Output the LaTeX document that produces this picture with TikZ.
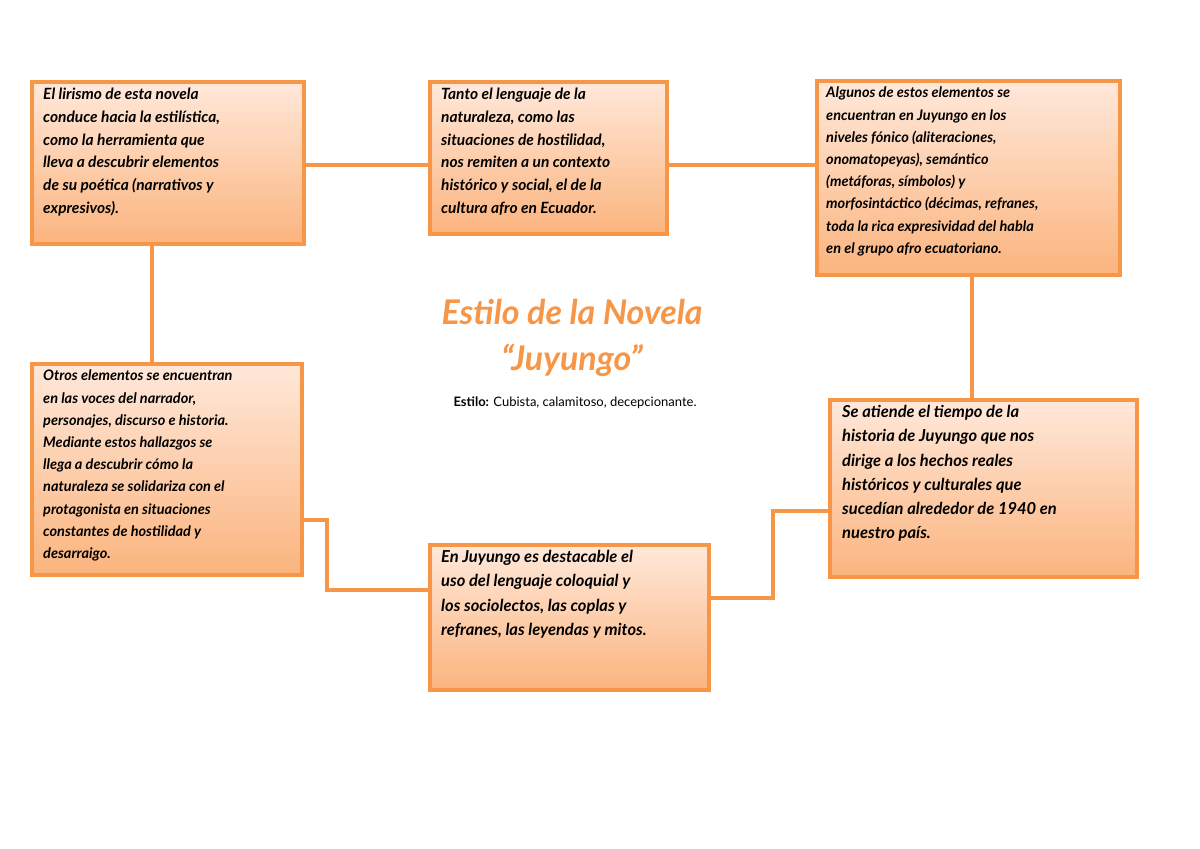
\documentclass[tikz,border=0pt]{standalone}
\usepackage{fontspec}
\setmainfont{Lato}
\usetikzlibrary{shadows}
\definecolor{bord}{HTML}{F79646}
\definecolor{topc}{HTML}{FFE8DA}
\definecolor{botc}{HTML}{FBB47E}
\tikzset{
 box/.style={draw=bord,line width=3.5pt,top color=topc,bottom color=botc,
   drop shadow={shadow xshift=1.5pt,shadow yshift=-1.5pt,opacity=0.35},
   anchor=north west,inner sep=0pt},
 txt/.style={text=black,align=left,anchor=north west,inner sep=0pt,
   font=\fontsize{15.5}{22.7}\selectfont\bfseries\itshape},
 conn/.style={draw=bord,line width=3.5pt}
}
\begin{document}
\begin{tikzpicture}[x=1pt,y=-1pt]
\useasboundingbox (0,0) rectangle (1200,849);
\fill[white] (0,0) rectangle (1200,849);
\node[box,minimum width=272pt,minimum height=162pt] (b1) at (30,80) {};
\node[box,minimum width=237pt,minimum height=152pt] (b2) at (428,80) {};
\node[box,minimum width=303pt,minimum height=194pt] (b3) at (815,79) {};
\node[box,minimum width=270pt,minimum height=211pt] (b4) at (30,362) {};
\node[box,minimum width=307pt,minimum height=177pt] (b5) at (828,398) {};
\node[box,minimum width=279pt,minimum height=145pt] (b6) at (428,543) {};
\node[txt] (t1) at (43,88) {El lirismo de esta novela\\conduce hacia la estilística,\\como la herramienta que\\lleva a descubrir elementos\\de su poética (narrativos y\\expresivos).};
\node[txt] (t2) at (441,88) {Tanto el lenguaje de la\\naturaleza, como las\\situaciones de hostilidad,\\nos remiten a un contexto\\histórico y social, el de la\\cultura afro en Ecuador.};
\node[txt,font=\fontsize{14.5}{22.2}\selectfont\bfseries\itshape] (t3) at (826,87) {Algunos de estos elementos se\\encuentran en Juyungo en los\\niveles fónico (aliteraciones,\\onomatopeyas), semántico\\(metáforas, símbolos) y\\morfosintáctico (décimas, refranes,\\toda la rica expresividad del habla\\en el grupo afro ecuatoriano.};
\node[txt,font=\fontsize{14.5}{22.2}\selectfont\bfseries\itshape] (t4) at (43,370) {Otros elementos se encuentran\\en las voces del narrador,\\personajes, discurso e historia.\\Mediante estos hallazgos se\\llega a descubrir cómo la\\naturaleza se solidariza con el\\protagonista en situaciones\\constantes de hostilidad y\\desarraigo.};
\node[txt,font=\fontsize{16.5}{24.3}\selectfont\bfseries\itshape] (t5) at (842,405) {Se atiende el tiempo de la\\historia de Juyungo que nos\\dirige a los hechos reales\\históricos y culturales que\\sucedían alrededor de 1940 en\\nuestro país.};
\node[txt,font=\fontsize{16.5}{24.3}\selectfont\bfseries\itshape] (t6) at (441,550) {En Juyungo es destacable el\\uso del lenguaje coloquial y\\los sociolectos, las coplas y\\refranes, las leyendas y mitos.};
\draw[conn] (b1.east |- 0,165) -- (b2.west |- 0,165);
\draw[conn] (b2.east |- 0,165) -- (b3.west |- 0,165);
\draw[conn] (b1.south -| 152,0) -- (b4.north -| 152,0);
\draw[conn] (b3.south -| 972,0) -- (b5.north -| 972,0);
\draw[conn] (b4.east |- 0,520) -- (327,520) -- (327,590) -- (b6.west |- 0,590);
\draw[conn] (b6.east |- 0,598) -- (773,598) -- (773,511) -- (b5.west |- 0,511);
\node[text=white,draw=none,font=\fontsize{34}{44}\selectfont\bfseries\itshape,align=center] (tb) at (572,338) {\phantom{x}};
\node[text=bord,font=\fontsize{34}{46}\selectfont\bfseries\itshape,align=center] (t) at (572,338) {Estilo de la Novela\\“Juyungo”};
\node[font=\fontsize{13}{15}\selectfont,anchor=west] (s) at (450,403) {\textbf{Estilo:} Cubista, calamitoso, decepcionante.};
\end{tikzpicture}
\end{document}
